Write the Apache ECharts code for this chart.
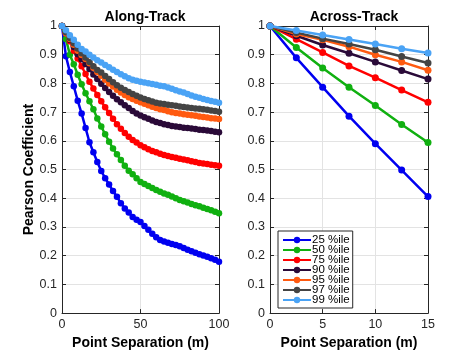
<!DOCTYPE html>
<html><head><meta charset="utf-8">
<script src="https://cdn.jsdelivr.net/npm/echarts@6/dist/echarts.min.js"></script>
<style>html,body{margin:0;padding:0;background:#fff}#c{width:474px;height:355px}</style>
</head><body><div id="c"></div>
<script>
var alongX = [0,2.5,5,7.5,10,12.5,15,17.5,20,22.5,25,27.5,30,32.5,35,37.5,40,42.5,45,47.5,50,52.5,55,57.5,60,62.5,65,67.5,70,72.5,75,77.5,80,82.5,85,87.5,90,92.5,95,97.5,100];
var acrossX = [0,2.5,5,7.5,10,12.5,15];
var seriesNames = ['25 %ile','50 %ile','75 %ile','90 %ile','95 %ile','97 %ile','99 %ile'];
var colors = ['#0000f0','#10b010','#ff0000','#2a0a38','#ff5a10','#444444','#4aa3f5'];

var along25 = [1.0,0.895,0.84,0.79,0.74,0.695,0.645,0.595,0.56,0.526,0.495,0.47,0.448,0.425,0.405,0.383,0.364,0.35,0.335,0.325,0.317,0.303,0.29,0.276,0.264,0.255,0.249,0.245,0.241,0.237,0.233,0.227,0.221,0.215,0.21,0.205,0.201,0.196,0.191,0.186,0.179];
var along50 = [1.0,0.955,0.9,0.867,0.83,0.797,0.766,0.738,0.71,0.678,0.65,0.623,0.597,0.573,0.553,0.533,0.513,0.496,0.484,0.47,0.457,0.45,0.443,0.436,0.429,0.423,0.417,0.412,0.406,0.4,0.394,0.39,0.385,0.38,0.376,0.372,0.367,0.363,0.358,0.353,0.348];
var along75 = [1.0,0.975,0.947,0.914,0.887,0.86,0.833,0.806,0.782,0.76,0.738,0.717,0.697,0.677,0.658,0.642,0.627,0.614,0.603,0.594,0.585,0.578,0.571,0.565,0.56,0.555,0.551,0.547,0.544,0.541,0.538,0.535,0.532,0.529,0.526,0.523,0.521,0.519,0.517,0.515,0.513];
var along90 = [1.0,0.977,0.952,0.927,0.902,0.884,0.868,0.85,0.831,0.815,0.799,0.784,0.77,0.757,0.745,0.734,0.724,0.714,0.704,0.695,0.688,0.682,0.677,0.671,0.666,0.662,0.658,0.655,0.652,0.65,0.648,0.646,0.645,0.643,0.641,0.639,0.638,0.636,0.634,0.632,0.63];
var along95 = [1.0,0.975,0.955,0.935,0.914,0.899,0.885,0.87,0.855,0.84,0.827,0.813,0.8,0.789,0.778,0.768,0.76,0.752,0.746,0.74,0.734,0.729,0.724,0.719,0.714,0.71,0.707,0.703,0.7,0.697,0.695,0.693,0.691,0.689,0.687,0.685,0.683,0.681,0.679,0.678,0.676];
var along97 = [1.0,0.978,0.958,0.94,0.922,0.905,0.89,0.875,0.86,0.847,0.838,0.826,0.815,0.804,0.794,0.785,0.777,0.77,0.763,0.757,0.751,0.746,0.741,0.737,0.733,0.73,0.728,0.726,0.724,0.722,0.72,0.718,0.716,0.714,0.713,0.712,0.71,0.708,0.706,0.704,0.701];
var along99 = [1.0,0.985,0.968,0.952,0.935,0.92,0.911,0.9,0.89,0.881,0.873,0.864,0.856,0.848,0.84,0.832,0.825,0.818,0.813,0.809,0.806,0.803,0.801,0.798,0.795,0.792,0.79,0.786,0.781,0.776,0.772,0.768,0.763,0.758,0.754,0.75,0.746,0.742,0.739,0.736,0.733];

var across25 = [1.0,0.889,0.787,0.686,0.59,0.498,0.406];
var across50 = [1.0,0.925,0.854,0.787,0.723,0.657,0.594];
var across75 = [1.0,0.954,0.908,0.861,0.82,0.777,0.734];
var across90 = [1.0,0.966,0.934,0.905,0.875,0.845,0.815];
var across95 = [1.0,0.972,0.952,0.928,0.9,0.875,0.846];
var across97 = [1.0,0.977,0.956,0.937,0.917,0.894,0.871];
var across99 = [1.0,0.984,0.969,0.953,0.937,0.921,0.906];

var yTicks = ['0','0.1','0.2','0.3','0.4','0.5','0.6','0.7','0.8','0.9','1'];

var alongAll = [along25,along50,along75,along90,along95,along97,along99];
var acrossAll = [across25,across50,across75,across90,across95,across97,across99];

function pairs(xs, ys){ return xs.map(function(x,i){ return [x, ys[i]]; }); }

var FONT = 'Liberation Sans';
var axisLineStyle = {color:'#262626', width:1};
function mkX(gi, max, interval, pos, showLabel, name){
  return {
    type:'value', gridIndex:gi, min:0, max:max, interval:interval, position:pos,
    axisLine:{show:true, onZero:false, lineStyle:axisLineStyle},
    axisTick:{show:true, inside:true, length:4, lineStyle:axisLineStyle},
    axisLabel:{show:showLabel, color:'#262626', fontFamily:FONT, fontSize:12.5, margin:5},
    splitLine:{show:pos==='bottom', lineStyle:{color:'#e3e3e3', width:1}},
    name: name || '', nameLocation:'middle', nameGap:22,
    nameTextStyle:{fontFamily:FONT, fontWeight:'bold', fontSize:14, color:'#000'}
  };
}
function mkY(gi, pos, showLabel, name){
  return {
    type:'value', gridIndex:gi, min:0, max:1, interval:0.1, position:pos,
    axisLine:{show:true, onZero:false, lineStyle:axisLineStyle},
    axisTick:{show:true, inside:true, length:4, lineStyle:axisLineStyle},
    axisLabel:{show:showLabel, color:'#262626', fontFamily:FONT, fontSize:12.5, margin:5,
      formatter:function(v){ return yTicks[Math.round(v*10)]; }},
    splitLine:{show:pos==='left', lineStyle:{color:'#e3e3e3', width:1}},
    name: name || '', nameLocation:'middle', nameGap:21,
    nameTextStyle:{fontFamily:FONT, fontWeight:'bold', fontSize:14, color:'#000'}
  };
}

var series = [];
seriesNames.forEach(function(n, i){
  series.push({
    name:n, type:'line', xAxisIndex:0, yAxisIndex:0,
    data:pairs(alongX, alongAll[i]), symbol:'circle', symbolSize:6.5, showSymbol:true,
    lineStyle:{width:2.5, color:colors[i]}, itemStyle:{color:colors[i]},
    z:2+i, animation:false
  });
  series.push({
    name:n, type:'line', xAxisIndex:2, yAxisIndex:2,
    data:pairs(acrossX, acrossAll[i]), symbol:'circle', symbolSize:7, showSymbol:true,
    lineStyle:{width:2.5, color:colors[i]}, itemStyle:{color:colors[i]},
    z:2+i, animation:false
  });
});

var chart = echarts.init(document.getElementById('c'), null, {renderer:'canvas'});
chart.setOption({
  backgroundColor:'#fff',
  animation:false,
  title:[
    {text:'Along-Track', left:140, top:5, textAlign:'center', textStyle:{fontFamily:FONT, fontWeight:'bold', fontSize:14, color:'#000'}},
    {text:'Across-Track', left:349, top:5, textAlign:'center', textStyle:{fontFamily:FONT, fontWeight:'bold', fontSize:14, color:'#000'}}
  ],
  grid:[
    {left:62, top:26, width:157, height:290},
    {left:270, top:26, width:158, height:290}
  ],
  xAxis:[
    mkX(0, 100, 50, 'bottom', true, 'Point Separation (m)'),
    mkX(0, 100, 50, 'top', false),
    mkX(1, 15, 5, 'bottom', true, 'Point Separation (m)'),
    mkX(1, 15, 5, 'top', false)
  ],
  yAxis:[
    mkY(0, 'left', true, 'Pearson Coefficient'),
    mkY(0, 'right', false),
    mkY(1, 'left', true),
    mkY(1, 'right', false)
  ],
  legend:{
    orient:'vertical', left:278, top:231, padding:[3,3,2,4], itemGap:-2,
    itemWidth:28, itemHeight:8,
    backgroundColor:'#fff', borderColor:'#262626', borderWidth:1,
    textStyle:{fontFamily:FONT, fontSize:11.5, color:'#000', padding:[0,0,0,-4]},
    data:seriesNames
  },
  series:series
});
</script>
</body></html>
